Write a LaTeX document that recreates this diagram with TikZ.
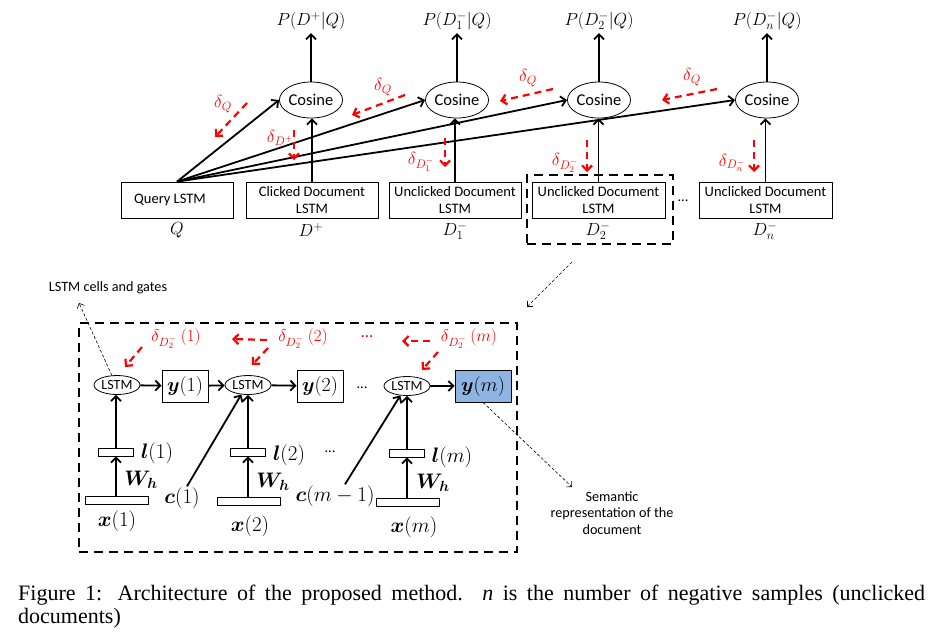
\documentclass[tikz,border=0pt]{standalone}
\usepackage{fix-cm}
\usepackage{fontspec}
\setmainfont{Carlito}
\newfontfamily\capfont{Liberation Serif}
\usepackage{bm}
\usetikzlibrary{arrows.meta,shapes.geometric}
\definecolor{ymblue}{RGB}{142,180,227}
\newcommand\myfs[2]{\fontsize{#1}{#2}\selectfont}
\begin{document}
\begin{tikzpicture}[x=1pt,y=-1pt,
  arr/.style={line width=1.8pt,-{Straight Barb[length=5pt,width=10pt]}},
  redarr/.style={draw=red,line width=2.2pt,dash pattern=on 7pt off 5pt,-{Straight Barb[length=5pt,width=10pt]}},
  thinarr/.style={line width=0.6pt,dash pattern=on 3pt off 2pt,-{Straight Barb[length=4pt,width=8pt]}},
  cosnode/.style={ellipse,draw,line width=0.8pt,minimum width=56pt,minimum height=36pt,inner sep=0pt,font=\myfs{16.5}{18}},
  docbox/.style={draw,line width=0.8pt,minimum height=36pt,inner sep=0pt,align=center,font=\myfs{14.5}{17}},
  toplab/.style={inner sep=1pt,font=\myfs{17.5}{19}},
  redlab/.style={inner sep=0pt,text=red,font=\myfs{17.5}{19}},
  redlabb/.style={inner sep=0pt,text=red,font=\myfs{17}{19}},
  lstm/.style={ellipse,draw,line width=0.8pt,minimum width=46pt,minimum height=19pt,inner sep=0pt,font=\myfs{14}{16}},
  ybox/.style={draw,line width=0.8pt,minimum width=46pt,minimum height=32pt,inner sep=0pt,font=\myfs{20}{22}},
  lbar/.style={draw,line width=0.8pt,minimum width=35pt,minimum height=8pt,inner sep=0pt},
  xbar/.style={draw,line width=0.8pt,minimum width=63pt,minimum height=8pt,inner sep=0pt},
  botlab/.style={inner sep=1pt,font=\myfs{21}{23}},
  dashbox/.style={draw,line width=2.2pt,dash pattern=on 9pt off 6pt,inner sep=0pt},
  note/.style={inner sep=0pt,align=center,font=\myfs{14.2}{16.7}}
]
\useasboundingbox (0,0) rectangle (937,635);

% ---------- top part ----------
\node[cosnode] (c1) at (311,100) {Cosine};
\node[cosnode] (c2) at (457,100) {Cosine};
\node[cosnode] (c3) at (599,100) {Cosine};
\node[cosnode] (c4) at (767,100) {Cosine};

\node[toplab] (p1) at (311,21) {$P(D^+|Q)$};
\node[toplab] (p2) at (457,21) {$P(D_1^-|Q)$};
\node[toplab] (p3) at (599,21) {$P(D_2^-|Q)$};
\node[toplab] (p4) at (767,21) {$P(D_n^-|Q)$};

\node[docbox,minimum width=112pt] (q) at (177,200) {Query LSTM\hspace*{14pt}};
\node[docbox,minimum width=132pt] (dp) at (312,200) {Clicked Document\\LSTM};
\node[docbox,minimum width=132pt] (d1) at (455,200) {Unclicked Document\\LSTM};
\node[docbox,minimum width=133pt] (d2) at (598.5,200) {Unclicked Document\\LSTM};
\node[docbox,minimum width=133pt] (dn) at (765.5,200) {Unclicked Document\\LSTM};

\node[toplab] (lq) at (177,230) {$Q$};
\node[toplab] (ldp) at (311,230) {$D^+$};
\node[toplab] (ld1) at (455,231) {$D_1^-$};
\node[toplab] (ld2) at (598,231) {$D_2^-$};
\node[toplab] (ldn) at (765,231) {$D_n^-$};

\node[inner sep=0pt,font=\myfs{14.5}{17}] (dots1) at (683,201) {...};
\node[dashbox,minimum width=146pt,minimum height=69pt] (bx) at (600,209.5) {};

\foreach \c/\p in {c1/p1,c2/p2,c3/p3,c4/p4}
  \draw[arr,shorten >=2pt] (\c.north) -- (\p.south);
\draw[arr] (dp.north) -- (dp.north |- c1.south);
\draw[arr] (d1.north) -- (d1.north |- c2.south);
\draw[arr] (d2.north) -- (d2.north |- c3.south);
\draw[arr] (dn.north) -- (dn.north |- c4.south);
\foreach \c in {c1,c2,c3,c4}
  \draw[arr] (q.north) -- (\c.west);

% red gradients (top)
\draw[redarr] (247,103) -- (215,137);
\node[redlab] (rq1) at (223,104) {$\delta_Q$};
\draw[redarr] (294,130) -- (294,160);
\node[redlab] (rdp) at (280,138) {$\delta_{D^+}$};
\draw[redarr] (405,95) -- (352,115);
\node[redlab] (rq2) at (383,87) {$\delta_Q$};
\draw[redarr] (445,138) -- (445,167);
\node[redlab] (rd1) at (421,162) {$\delta_{D_1^-}$};
\draw[redarr] (553,89) -- (500,101);
\node[redlab] (rq3) at (528,78) {$\delta_Q$};
\draw[redarr] (717,89) -- (662,100);
\node[redlab] (rq4) at (692,77) {$\delta_Q$};
\draw[redarr] (587,140) -- (587,172);
\node[redlab] (rd2) at (565,163) {$\delta_{D_2^-}$};
\draw[redarr] (754,140) -- (754,172);
\node[redlab] (rdn) at (732,163) {$\delta_{D_n^-}$};

% ---------- bottom part ----------
\node[dashbox,minimum width=438pt,minimum height=229pt] (big) at (298,437.5) {};
\coordinate (zs) at (572,262);
\coordinate (ze) at (527,307);
\draw[thinarr] (zs) -- (ze);

\node[inner sep=0pt,font=\myfs{14.2}{16}] (cells) at (108,288) {LSTM cells and gates};

\node[lstm] (ls1) at (117,385) {LSTM};
\node[lstm] (ls2) at (248,385) {LSTM};
\node[lstm] (ls3) at (407,386) {LSTM};
\node[ybox] (y1) at (185,386) {$\bm{y}(1)$};
\node[ybox] (y2) at (320,386) {$\bm{y}(2)$};
\node[ybox,minimum width=56pt,fill=ymblue] (ym) at (483,386) {$\bm{y}(m)$};
\node[inner sep=0pt,font=\myfs{14.5}{17}] (dots2) at (362,388) {...};
\node[inner sep=0pt,font=\myfs{14.5}{17}] (dots3) at (330,452) {...};

\coordinate (ce) at (79,303);
\draw[thinarr] (ls1.118) -- (ce);

\draw[arr] (ls1) -- (y1);
\draw[arr] (y1) -- (ls2);
\draw[arr] (ls2) -- (y2);
\draw[arr] (ls3) -- (ym);

\node[lbar] (l1) at (116,452) {};
\node[lbar] (l2) at (248,452) {};
\node[lbar] (lm) at (407,453) {};
\node[xbar] (x1) at (117,500) {};
\node[xbar] (x2) at (249,501) {};
\node[xbar] (xm) at (408,502) {};

\draw[arr] (x1.north -| l1) -- (l1.south);
\draw[arr] (l1.north) -- (l1.north |- ls1.south);
\draw[arr] (x2.north -| l2) -- (l2.south);
\draw[arr] (l2.north) -- (l2.north |- ls2.south);
\draw[arr] (xm.north -| lm) -- (lm.south);
\draw[arr] (lm.north) -- (lm.north |- ls3.south);

\node[botlab] (w1) at (141,480) {$\bm{W}_{\bm{h}}$};
\node[botlab] (w2) at (273,482) {$\bm{W}_{\bm{h}}$};
\node[botlab] (w3) at (433,483) {$\bm{W}_{\bm{h}}$};
\node[botlab] (ll1) at (157,453) {$\bm{l}(1)$};
\node[botlab] (ll2) at (289,455) {$\bm{l}(2)$};
\node[botlab] (llm) at (452,457) {$\bm{l}(m)$};
\node[botlab] (lx1) at (117,521) {$\bm{x}(1)$};
\node[botlab] (lx2) at (250,526) {$\bm{x}(2)$};
\node[botlab] (lxm) at (414,527) {$\bm{x}(m)$};
\node[botlab] (lc1) at (182,498) {$\bm{c}(1)$};
\node[botlab] (lcm) at (335,496) {$\bm{c}(m-1)$};

\draw[arr] ([xshift=5pt]lc1.north) -- (ls2.235);
\draw[arr] ([xshift=10pt]lcm.north) -- (ls3.235);

% red gradients (bottom)
\node[redlabb] (rb1) at (176,339) {$\delta_{D_2^-}\ (1)$};
\draw[redarr] (142,347) -- (125,367);
\draw[redarr] (267,340) -- (232,339);
\node[redlabb] (rb2) at (303,339) {$\delta_{D_2^-}\ (2)$};
\draw[redarr] (268,348) -- (252,365);
\node[redlabb] (rdots) at (367,337) {...};
\draw[redarr] (430,341) -- (402,341);
\node[redlabb] (rbm) at (469,339) {$\delta_{D_2^-}\ (m)$};
\draw[redarr] (438,352) -- (422,370);

\node[note] (sem) at (612,513) {Semantic\\representation of the\\document};
\coordinate (se) at (572,487);
\draw[thinarr] (ym.south) -- (se);

% ---------- caption ----------
\node[anchor=base west,inner sep=0pt,font=\capfont\myfs{22}{24}] (cap1) at (18,600)
  {\makebox[907pt][s]{Figure 1:  Architecture of the proposed method.  \textit{n} is the number of negative samples (unclicked}};
\node[anchor=base west,inner sep=0pt,font=\capfont\myfs{22}{24}] (cap2) at (18,623) {documents)};
\end{tikzpicture}
\end{document}
